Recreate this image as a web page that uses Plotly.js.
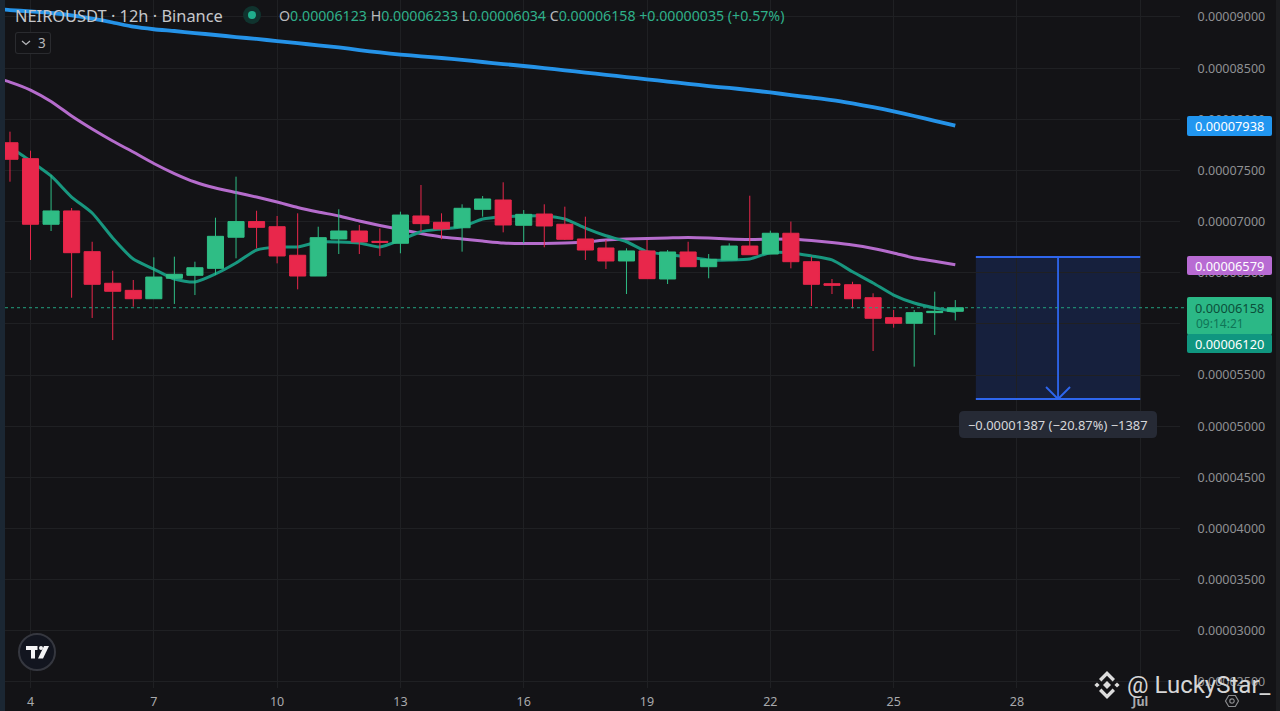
<!DOCTYPE html>
<html><head><meta charset="utf-8">
<script src="https://cdn.plot.ly/plotly-3.0.1.min.js"></script>
<style>html,body{margin:0;padding:0;background:#131316;overflow:hidden}#c{width:1280px;height:711px}</style>
</head><body><div id="c"></div>
<script>
// Values are in units of 0.00000001
const candleTimes = ['2025-06-03 12:00','2025-06-04 00:00','2025-06-04 12:00','2025-06-05 00:00','2025-06-05 12:00','2025-06-06 00:00','2025-06-06 12:00','2025-06-07 00:00','2025-06-07 12:00','2025-06-08 00:00','2025-06-08 12:00','2025-06-09 00:00','2025-06-09 12:00','2025-06-10 00:00','2025-06-10 12:00','2025-06-11 00:00','2025-06-11 12:00','2025-06-12 00:00','2025-06-12 12:00','2025-06-13 00:00','2025-06-13 12:00','2025-06-14 00:00','2025-06-14 12:00','2025-06-15 00:00','2025-06-15 12:00','2025-06-16 00:00','2025-06-16 12:00','2025-06-17 00:00','2025-06-17 12:00','2025-06-18 00:00','2025-06-18 12:00','2025-06-19 00:00','2025-06-19 12:00','2025-06-20 00:00','2025-06-20 12:00','2025-06-21 00:00','2025-06-21 12:00','2025-06-22 00:00','2025-06-22 12:00','2025-06-23 00:00','2025-06-23 12:00','2025-06-24 00:00','2025-06-24 12:00','2025-06-25 00:00','2025-06-25 12:00','2025-06-26 00:00','2025-06-26 12:00'];
const lineTimes = ['2025-06-03 00:00'].concat(candleTimes);
const openU  = [7771,7615,6974,7104,6706,6397,6328,6246,6446,6475,6543,6847,7000,6950,6671,6468,6830,6908,6807,6788,7055,6993,6940,7120,7211,6964,7074,6974,6830,6742,6615,6713,6439,6703,6559,6625,6761,6683,6886,6608,6393,6383,6256,6061,6006,6110,6123];
const highU  = [7879,7693,7456,7133,6803,6520,6429,6651,6657,6608,7038,7439,7106,7055,7081,6950,7120,6967,6934,7097,7358,7081,7169,7250,7384,7113,7169,7146,7048,6820,6739,6820,6722,6803,6683,6788,7253,6911,7000,6657,6439,6412,6299,6136,6136,6315,6233];
const lowU   = [7390,6625,6908,6256,6058,5842,6168,6246,6195,6282,6478,6641,6739,6592,6338,6468,6683,6683,6664,6690,6901,6827,6706,7048,6895,6788,6749,6820,6625,6537,6292,6442,6390,6559,6446,6625,6676,6683,6543,6175,6292,6152,5735,5963,5582,5892,6034];
const closeU = [7609,6974,7104,6696,6387,6319,6246,6458,6485,6549,6856,7000,6944,6664,6468,6843,6908,6801,6798,7064,6980,6928,7130,7221,6967,7071,6957,6827,6722,6615,6713,6442,6703,6559,6631,6761,6676,6886,6608,6387,6377,6246,6055,6006,6110,6123,6158];
const emaFast = [7729,7592,7446,7240,7084,6840,6634,6536,6439,6409,6488,6595,6722,6752,6752,6800,6800,6791,6752,6820,6901,6928,6950,7025,7048,7055,7055,7025,6937,6862,6803,6706,6678,6654,6625,6625,6634,6696,6696,6664,6625,6510,6400,6282,6204,6155,6120];
const emaMid  = [8423,8364,8286,8174,8032,7905,7788,7680,7568,7470,7387,7328,7284,7240,7191,7138,7094,7055,7006,6962,6923,6883,6850,6830,6810,6791,6786,6786,6791,6800,6820,6830,6835,6840,6845,6840,6830,6825,6828,6830,6815,6795,6771,6737,6693,6644,6612,6579];
const emaSlow = [9088,9068,9054,9039,9016,8985,8946,8905,8880,8863,8843,8824,8804,8785,8765,8744,8723,8702,8677,8653,8633,8616,8599,8580,8560,8540,8521,8501,8479,8457,8435,8413,8391,8369,8347,8325,8306,8286,8262,8237,8213,8188,8155,8118,8078,8032,7985,7938];
const xTickDates = ['2025-06-04','2025-06-07','2025-06-10','2025-06-13','2025-06-16','2025-06-19','2025-06-22','2025-06-25','2025-06-28','2025-07-01'];
const xTickText = ['4','7','10','13','16','19','22','25','28','<b>Jul</b>'];
const yTickU = [9000,8500,8000,7500,7000,6500,6000,5500,5000,4500,4000,3500,3000,2500];
const yTickText = ['0.00009000','0.00008500','0.00008000','0.00007500','0.00007000','0.00006500','0.00006000','0.00005500','0.00005000','0.00004500','0.00004000','0.00003500','0.00003000','0.00002500'];
const measureTopU = 6654, measureBottomU = 5266, lastCloseU = 6158;
const measureStart = '2025-06-27', measureEnd = '2025-07-01', measureMid = '2025-06-29';

const P = u => u * 1e-8;
const yRange = [P(2441), P(9166)];
const xRange = ['2025-06-03 09:06','2025-07-01 23:13'];
const W = 1175, H = 688, L = 5;
const px = x => (x - L) / W, py = y => 1 - y / H;
const font = '"Noto Sans", sans-serif';

function pt(x, y){ return px(x) + ' ' + py(y); }
function roundRect(x0,y0,x1,y1,r,color){
  return {type:'path',xref:'paper',yref:'paper',layer:'above',fillcolor:color,line:{width:0},
    path:`M${pt(x0+r,y0)} L${pt(x1-r,y0)} Q${pt(x1,y0)} ${pt(x1,y0+r)} L${pt(x1,y1-r)} Q${pt(x1,y1)} ${pt(x1-r,y1)} L${pt(x0+r,y1)} Q${pt(x0,y1)} ${pt(x0,y1-r)} L${pt(x0,y0+r)} Q${pt(x0,y0)} ${pt(x0+r,y0)} Z`};
}
function poly(points,fill,lineColor,lw,closed=true){
  return {type:'path',xref:'paper',yref:'paper',layer:'above',fillcolor:fill||'rgba(0,0,0,0)',
    line:{width:lw||0,color:lineColor||'rgba(0,0,0,0)'},
    path:'M'+points.map(p=>pt(p[0],p[1])).join(' L')+(closed?' Z':'')};
}
function circle(cx,cy,r,fill,lineColor,lw){
  return {type:'circle',xref:'paper',yref:'paper',layer:'above',x0:px(cx-r),x1:px(cx+r),y0:py(cy+r),y1:py(cy-r),
    fillcolor:fill,line:{width:lw||0,color:lineColor||'rgba(0,0,0,0)'}};
}
function label(text,x,y,size,color,anchor,extra){
  return Object.assign({xref:'paper',yref:'paper',x:px(x),y:py(y),text,showarrow:false,xanchor:anchor||'left',yanchor:'middle',
    font:{family:font,size,color},borderpad:0,borderwidth:0},extra||{});
}

const traces = [
 {type:'scatter',mode:'lines',x:lineTimes,y:emaSlow.map(P),line:{color:'#2593e8',width:3.8,shape:'spline',smoothing:0.5},hoverinfo:'skip',showlegend:false},
 {type:'scatter',mode:'lines',x:lineTimes,y:emaMid.map(P),line:{color:'#b56ccc',width:3,shape:'spline',smoothing:0.5},hoverinfo:'skip',showlegend:false},
 {type:'scatter',mode:'lines',x:candleTimes,y:emaFast.map(P),line:{color:'#18977f',width:3,shape:'spline',smoothing:0.6},hoverinfo:'skip',showlegend:false},
 {type:'candlestick',x:candleTimes,open:openU.map(P),high:highU.map(P),low:lowU.map(P),close:closeU.map(P),yaxis:'y2',
  increasing:{line:{color:'#2fbd85',width:1},fillcolor:'#2fbd85'},
  decreasing:{line:{color:'#e8274b',width:1},fillcolor:'#e8274b'},
  whiskerwidth:0,hoverinfo:'skip',showlegend:false}
];

const shapes = [
 {type:'rect',xref:'paper',yref:'paper',x0:px(0),x1:px(5),y0:py(711),y1:py(0),fillcolor:'#1b2733',line:{width:0},layer:'above'},
 {type:'rect',xref:'paper',yref:'paper',x0:px(1276),x1:px(1280),y0:py(711),y1:py(0),fillcolor:'#1c1d20',line:{width:0},layer:'above'},
 {type:'rect',xref:'x',yref:'y',x0:measureStart,x1:measureEnd,y0:P(measureBottomU),y1:P(measureTopU),fillcolor:'rgba(41,98,255,0.17)',line:{width:0},layer:'below'},
 {type:'line',xref:'x',yref:'y',x0:measureStart,x1:measureEnd,y0:P(measureTopU),y1:P(measureTopU),line:{color:'#2e66ee',width:1.8}},
 {type:'line',xref:'x',yref:'y',x0:measureStart,x1:measureEnd,y0:P(measureBottomU),y1:P(measureBottomU),line:{color:'#2e66ee',width:1.8}},
 {type:'line',xref:'x',yref:'y',x0:measureMid,x1:measureMid,y0:P(measureTopU),y1:P(measureBottomU),line:{color:'#2e66ee',width:1.8}},
 {type:'line',xref:'x',yref:'y',xsizemode:'pixel',ysizemode:'pixel',xanchor:measureMid,yanchor:P(measureBottomU),x0:-12,y0:12,x1:0,y1:0,line:{color:'#2e66ee',width:1.8}},
 {type:'line',xref:'x',yref:'y',xsizemode:'pixel',ysizemode:'pixel',xanchor:measureMid,yanchor:P(measureBottomU),x0:12,y0:12,x1:0,y1:0,line:{color:'#2e66ee',width:1.8}},
 {type:'line',xref:'paper',yref:'y',x0:0,x1:px(1184),y0:P(lastCloseU),y1:P(lastCloseU),line:{color:'#22a07f',width:1,dash:'dot'},layer:'above'},
 roundRect(1187,116,1272,136,2,'#2196f0'),
 roundRect(1187,256,1272,275,2,'#b86bd3'),
 roundRect(1187,297,1272,335,2,'#2bb886'),
 roundRect(1187,334,1272,353,2,'#109680'),
 roundRect(959,411,1157,438,5,'#262a35'),
 circle(252,15,9,'#10332e'),
 circle(252,15,4,'#1fae8c'),
 roundRect(15,32,51,54,3,'#2a2b2f'),
 roundRect(16,33,50,53,2,'#131316'),
 poly([[22,41],[26,44.5],[30,41]],null,'#b6b7ba',1.3,false),
 circle(37,652,18,'#12151f','#35373f',2),
 poly([[26,646],[37.5,646],[37.5,650],[35,650],[35,658.5],[31,658.5],[31,650],[26,650]],'#f4f4f6'),
 circle(41,648,2,'#f4f4f6'),
 poly([[44,646],[49,646],[43,658.5],[38,658.5]],'#f4f4f6'),
 poly([[1107,681],[1111,685],[1107,689],[1103,685]],'#dcdcdc'),
 poly([[1107,671],[1115,679],[1112.6,681.4],[1107,675.8],[1101.4,681.4],[1099,679]],'#dcdcdc'),
 poly([[1107,699],[1115,691],[1112.6,688.6],[1107,694.2],[1101.4,688.6],[1099,691]],'#dcdcdc'),
 poly([[1097,682.4],[1099.6,685],[1097,687.6],[1094.4,685]],'#dcdcdc'),
 poly([[1117,682.4],[1119.6,685],[1117,687.6],[1114.4,685]],'#dcdcdc'),
 poly([[1225.5,701],[1228.7,695.5],[1235.3,695.5],[1238.5,701],[1235.3,706.5],[1228.7,706.5]],null,'#8a8b8e',1.2),
 circle(1232,701,2.2,'rgba(0,0,0,0)','#8a8b8e',1.2)
];

const G = '#2fb08a', Wt = '#b9babd';
const ohlc = `<span style="color:${Wt}">O</span><span style="color:${G}">0.00006123</span> <span style="color:${Wt}">H</span><span style="color:${G}">0.00006233</span> <span style="color:${Wt}">L</span><span style="color:${G}">0.00006034</span> <span style="color:${Wt}">C</span><span style="color:${G}">0.00006158</span> <span style="color:${G}">+0.00000035 (+0.57%)</span>`;
const annotations = [
 label('NEIROUSDT · 12h · Binance',15,15,16.4,'#c6c7ca'),
 label(ohlc,279,15,14.2,G),
 label('3',38,43,13.5,'#b6b7ba'),
 label('0.00007938',1229.5,126,12.8,'#ffffff','center'),
 label('0.00006579',1229.5,265.5,12.8,'#ffffff','center'),
 label('0.00006158',1229.5,308,12.8,'#0b4f3a','center'),
 label('09:14:21',1196,324,12,'#0f7557'),
 label('0.00006120',1229.5,344,12.8,'#ffffff','center'),
 label('−0.00001387 (−20.87%) −1387',1058,425,12.9,'#d6d7da','center'),
 label('@ LuckyStar_',1127,685,24,'#d6d6d6','left',{font:{family:'Roboto, sans-serif',size:24,color:'#d6d6d6'}})
];

const layout = {
 width:1280,height:711,margin:{l:5,r:100,t:0,b:23,pad:0},
 paper_bgcolor:'#131316',plot_bgcolor:'#131316',showlegend:false,
 boxmode:'overlay',boxgap:0.1,boxgroupgap:0.13,
 dragmode:false,hovermode:false,
 font:{family:font,color:'#909194'},
 xaxis:{type:'date',range:xRange,tickmode:'array',tickvals:xTickDates,ticktext:xTickText,rangeslider:{visible:false},
   showgrid:true,gridcolor:'#1f2023',gridwidth:1,zeroline:false,showline:false,ticks:'outside',ticklen:2,tickcolor:'rgba(0,0,0,0)',
   tickfont:{family:font,size:12.5,color:'#a8a9ac'}},
 yaxis:{range:yRange,side:'right',tickmode:'array',tickvals:yTickU.map(P),ticktext:yTickText,
   showgrid:true,gridcolor:'#1f2023',gridwidth:1,zeroline:false,showline:false,ticks:'outside',ticklen:14,tickcolor:'rgba(0,0,0,0)',
   tickfont:{family:font,size:12.5,color:'#8f9093'}},
 yaxis2:{range:yRange,overlaying:'y',side:'right',visible:false,showgrid:false,zeroline:false},
 shapes,annotations
};
Plotly.newPlot('c',traces,layout,{displayModeBar:false,staticPlot:true});
</script></body></html>
